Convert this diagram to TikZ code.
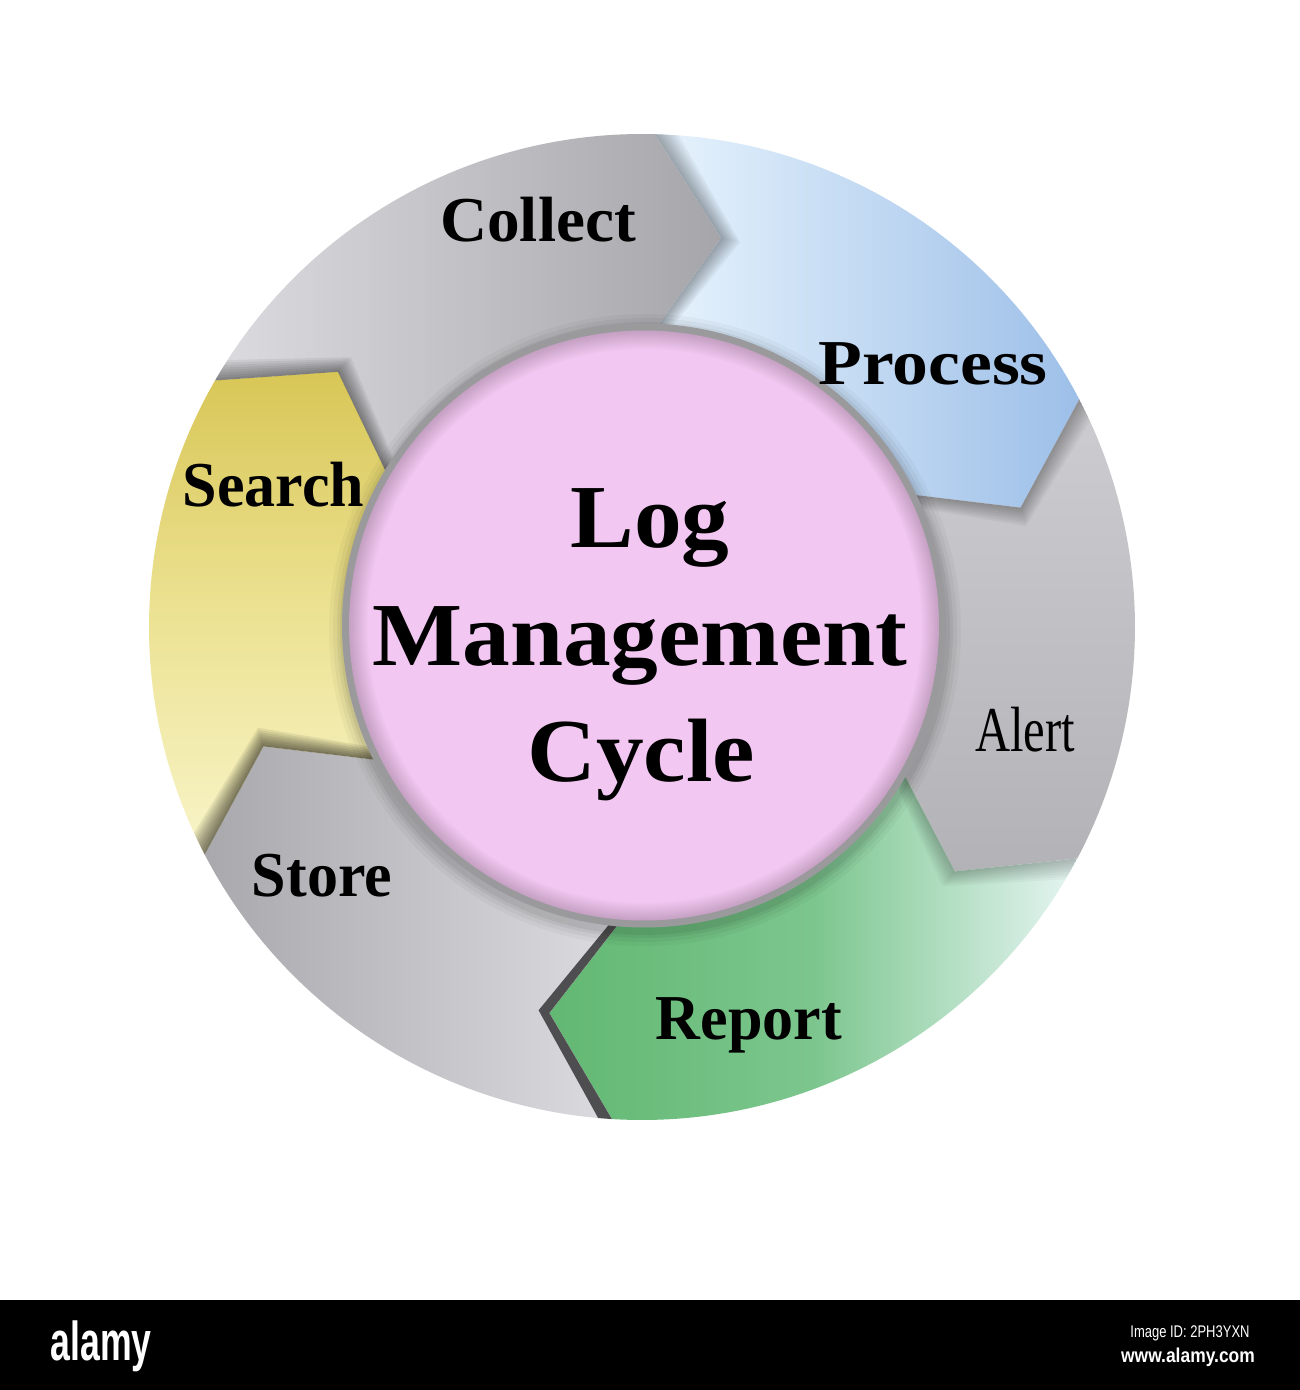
\documentclass[tikz,border=0pt]{standalone}
\usepackage{graphicx}
\usepackage{fontspec}
\setmainfont{Liberation Serif}
\newfontfamily\barfont{Liberation Sans}
\definecolor{pinkc}{HTML}{F2C7F1}
\definecolor{pinkedge}{HTML}{C4A0C2}
\definecolor{ringgray}{HTML}{9A9A9D}
\definecolor{colA}{HTML}{DCDCE0}\definecolor{colB}{HTML}{A6A6AA}
\definecolor{proA}{HTML}{E8F4FD}\definecolor{proB}{HTML}{9DBFE8}
\definecolor{aleA}{HTML}{CDCDD1}\definecolor{aleB}{HTML}{B3B3B7}
\definecolor{repA}{HTML}{62B872}\definecolor{repM}{HTML}{7CC68E}\definecolor{repB}{HTML}{E6F5F3}
\definecolor{stoA}{HTML}{A9A9AD}\definecolor{stoB}{HTML}{DDDDE1}
\definecolor{seaA}{HTML}{D8C656}\definecolor{seaM}{HTML}{ECE293}\definecolor{seaB}{HTML}{F8F4C8}
\definecolor{repedge}{HTML}{4E4E50}
\pgfdeclareradialshading{pinkdisc}{\pgfpoint{0bp}{0bp}}{color(0bp)=(pinkc); color(23.4bp)=(pinkc); color(25bp)=(pinkedge); color(50bp)=(pinkedge)}
\newcommand\Rout{4.93}
\newcommand\Rin{2.90}
\newcommand\Rmid{3.97}
\newcommand\segp[2]{(#1:\Rout) arc[start angle=#1,end angle=#2,radius=\Rout] -- ({#2-10}:\Rmid) -- (#2:\Rin) arc[start angle=#2,end angle=#1,radius=\Rin] -- ({#1-10}:\Rmid) -- cycle}
\newcommand\shadowon[5]{%
  \begin{scope}
    \clip \segp{#3}{#4};
    \foreach \rr in {-0.35,-0.7,-1.05,-1.4,-1.75,-2.1,-2.45,-2.8}{\fill[black,opacity=#5,rotate=\rr] \segp{#1}{#2};}
  \end{scope}}
\tikzset{
  lab/.style={anchor=base, inner sep=0pt, text=black, font=\bfseries\fontsize{18.2}{18.2}\selectfont},
  centre/.style={anchor=base, inner sep=0pt, text=black, font=\bfseries\fontsize{25.6}{25.6}\selectfont},
}
\begin{document}
\begin{tikzpicture}[x=1cm,y=1cm]
\useasboundingbox (0,0) rectangle (13,13.9);
\fill[white] (0,0) rectangle (13,13.9);
\begin{scope}[shift={(6.42,7.63)}]
  % segments
  \shade[left color=colA, right color=colB] \segp{150}{88.5};
  \shade[left color=proA, right color=proB] \segp{88.5}{27.5};
  \shade[top color=aleA, bottom color=aleB] \segp{27.5}{-28};
  \shade[left color=repA, right color=repB, middle color=repM] \segp{-28}{-93.5};
  \shade[left color=stoA, right color=stoB] \segp{-93.5}{-152.5};
  \shade[top color=seaA, bottom color=seaB, middle color=seaM] \segp{-152.5}{-210};
  % shadows of each head on the following segment
  \shadowon{150}{88.5}{88.5}{27.5}{0.045}
  \shadowon{88.5}{27.5}{27.5}{-28}{0.04}
  \shadowon{27.5}{-28}{-28}{-93.5}{0.03}
  \begin{scope}
    \clip \segp{-93.5}{-152.5};
    \fill[repedge, rotate=-1.6] \segp{-28}{-93.5};
  \end{scope}
  \shadowon{-93.5}{-152.5}{-152.5}{-210}{0.08}
  \shadowon{-152.5}{-210}{150}{88.5}{0.06}
  % central disc
  \foreach \rr/\oo in {3.16/0.03,3.12/0.04,3.08/0.05,3.05/0.06}{\fill[black, opacity=\oo] (0.03,-0.03) circle (\rr);}
  \fill[ringgray] (0.02,0.015) circle (3.02);
  \path[shading=pinkdisc] (0.02,0.015) circle (2.95);
\end{scope}
% labels
\node[lab] (collect) at (5.38,11.48) {\scalebox{1.02}[1]{Collect}};
\node[lab] (process) at (9.33,10.05) {\scalebox{1.12}[1]{Process}};
\node[lab] (search) at (2.735,8.83) {\scalebox{0.97}[1]{Search}};
\node[lab, font=\mdseries\fontsize{18.2}{18.2}\selectfont] (alert) at (10.25,6.38) {\scalebox{0.76}[1]{Alert}};
\node[lab] (store) at (3.22,4.94) {\scalebox{0.97}[1]{Store}};
\node[lab] (report) at (7.49,3.50) {\scalebox{0.97}[1]{Report}};
\node[centre] (log) at (6.50,8.42) {\scalebox{1.06}[1]{Log}};
\node[centre] (mgmt) at (6.40,7.24) {\scalebox{1.06}[1]{Management}};
\node[centre] (cycle) at (6.41,6.08) {\scalebox{1.06}[1]{Cycle}};
% bottom bar
\fill[black] (0,0) rectangle (13,0.90);
\node[anchor=base, inner sep=0pt, text=white, font=\barfont\bfseries\fontsize{15.6}{15.6}\selectfont] (logo) at (1.01,0.30) {\scalebox{0.65}[1]{alamy}};
\node[inner sep=0pt, text=white, font=\barfont\fontsize{4.8}{4.8}\selectfont] (imgid) at (11.90,0.57) {\scalebox{0.77}[1]{Image ID: 2PH3YXN}};
\node[inner sep=0pt, text=white, font=\barfont\bfseries\fontsize{5.7}{5.7}\selectfont] (url) at (11.88,0.33) {\scalebox{0.87}[1]{www.alamy.com}};
\end{tikzpicture}
\end{document}
